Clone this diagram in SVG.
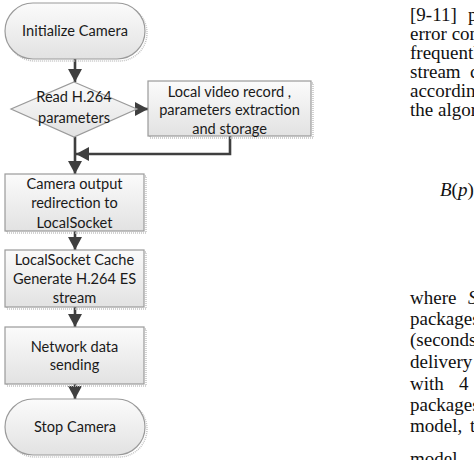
<svg xmlns="http://www.w3.org/2000/svg" width="474" height="460" viewBox="0 0 474 460">
<defs>
<linearGradient id="g" x1="0" y1="0" x2="0" y2="1">
<stop offset="0" stop-color="#fbfbfb"/>
<stop offset="1" stop-color="#e2e2e2"/>
</linearGradient>
<marker id="ah" markerUnits="userSpaceOnUse" markerWidth="14" markerHeight="14" viewBox="0 0 14 14" refX="13" refY="7" orient="auto">
<path d="M0,0 L13,7 L0,14 Z" fill="#3f3f3f"/>
</marker>
<style>
.shape{fill:url(#g);stroke:#9a9a9a;stroke-width:1.2}
.shadow{fill:none;stroke:#c4c4c4;stroke-width:1.5;stroke-dasharray:1 1}
.t{font-family:Lato,"Open Sans",sans-serif;font-size:14.6px;fill:#1a1a1a;text-anchor:middle}
.c{fill:none;stroke:#3f3f3f;stroke-width:2.6}
.p{font-family:"Liberation Serif",serif;font-size:19px;fill:#111}
</style>
</defs>
<rect width="474" height="460" fill="#ffffff"/>

<g id="connectors">
<line class="c" x1="75" y1="59" x2="75" y2="82" marker-end="url(#ah)"/>
<line class="c" x1="137" y1="109" x2="148" y2="109" marker-end="url(#ah)"/>
<polyline class="c" points="230,136 230,154 76,154" marker-end="url(#ah)"/>
<line class="c" x1="75" y1="137" x2="75" y2="174" marker-end="url(#ah)"/>
<line class="c" x1="75" y1="231" x2="75" y2="250" marker-end="url(#ah)"/>
<line class="c" x1="75" y1="307" x2="75" y2="327" marker-end="url(#ah)"/>
<line class="c" x1="75" y1="384" x2="75" y2="399" marker-end="url(#ah)"/>
</g>

<g id="init">
<rect class="shadow" x="7" y="5" width="140" height="56" rx="28"/>
<rect class="shape" x="5" y="3" width="140" height="56" rx="28"/>
<text class="t" x="75" y="36">Initialize Camera</text>
</g>

<g id="read">
<polygon class="shape" points="74,82 137,109 74,137 11,109"/>
<text class="t" x="74" y="102">Read H.264</text>
<text class="t" x="74" y="123">parameters</text>
</g>

<g id="local">
<rect class="shadow" x="150" y="83" width="163" height="55"/>
<rect class="shape" x="148" y="81" width="163" height="55"/>
<text class="t" x="229.5" y="97">Local video record ,</text>
<text class="t" x="229.5" y="115">parameters extraction</text>
<text class="t" x="229.5" y="134">and storage</text>
</g>

<g id="redirect">
<rect class="shadow" x="7" y="176" width="139" height="57"/>
<rect class="shape" x="5" y="174" width="139" height="57"/>
<text class="t" x="74.5" y="189">Camera output</text>
<text class="t" x="74.5" y="208">redirection to</text>
<text class="t" x="74.5" y="228">LocalSocket</text>
</g>

<g id="cache">
<rect class="shadow" x="7" y="252" width="139" height="57"/>
<rect class="shape" x="5" y="250" width="139" height="57"/>
<text class="t" x="74.5" y="265">LocalSocket Cache</text>
<text class="t" x="74.5" y="284">Generate H.264 ES</text>
<text class="t" x="74.5" y="303">stream</text>
</g>

<g id="send">
<rect class="shadow" x="7" y="329" width="139" height="57"/>
<rect class="shape" x="5" y="327" width="139" height="57"/>
<text class="t" x="74.5" y="352">Network data</text>
<text class="t" x="74.5" y="370">sending</text>
</g>

<g id="stop">
<rect class="shadow" x="7" y="401" width="140" height="56" rx="28"/>
<rect class="shape" x="5" y="399" width="140" height="56" rx="28"/>
<text class="t" x="75" y="432">Stop Camera</text>
</g>

<g id="page-text">
<text class="p" x="410" y="21">[9-11]</text><text class="p" x="468" y="21">p</text>
<text class="p" x="410" y="40">error con</text>
<text class="p" x="410" y="59">frequently</text>
<text class="p" x="410" y="78">stream</text><text class="p" x="470" y="78">c</text>
<text class="p" x="410" y="97">according</text>
<text class="p" x="410" y="116">the algor</text>
<text class="p" x="440" y="196"><tspan font-style="italic">B</tspan>(<tspan font-style="italic">p</tspan>)</text>
<text class="p" x="410" y="304">where</text><text class="p" x="468" y="304" font-style="italic">S</text>
<text class="p" x="410" y="325">packages</text>
<text class="p" x="410" y="346">(seconds</text>
<text class="p" x="410" y="368">delivery</text>
<text class="p" x="410" y="390">with</text><text class="p" x="459" y="390">4</text>
<text class="p" x="410" y="411">packages</text>
<text class="p" x="410" y="432">model,</text><text class="p" x="470" y="432">t</text>
<text class="p" x="410" y="465">model</text>
</g>
</svg>
